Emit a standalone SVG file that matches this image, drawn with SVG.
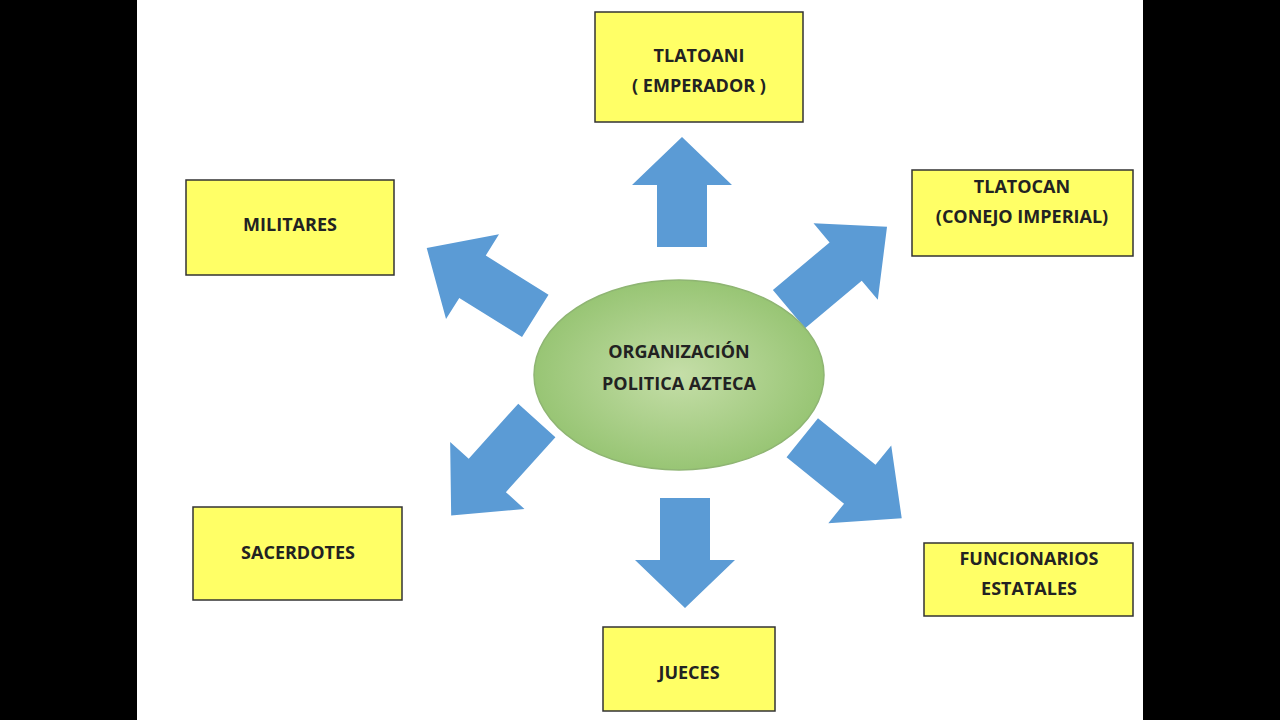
<svg xmlns="http://www.w3.org/2000/svg" width="1280" height="720" viewBox="0 0 1280 720">
<defs>
<style>
.box{fill:#ffff66;stroke:#333;stroke-width:1.5}
.t{font-family:"Open Sans","Liberation Sans",sans-serif;font-weight:bold;font-size:18px;fill:#222;text-anchor:middle}
.arr{fill:#5b9bd5}
</style>
<radialGradient id="g" cx="0.5" cy="0.5" r="0.6">
<stop offset="0" stop-color="#c5dea8"/><stop offset="1" stop-color="#8fc06a"/>
</radialGradient>
<path id="a" d="M-55,-25 L7,-25 L7,-50 L55,0 L7,50 L7,25 L-55,25Z"/>
<path id="d" d="M-64,-25 L10,-25 L10,-50 L64,0 L10,50 L10,25 L-64,25Z"/>
</defs>
<rect width="1280" height="720" fill="#000"/>
<rect x="137" y="0" width="1006" height="720" fill="#fff"/>
<g id="connectors">
<use href="#a" class="arr" transform="translate(682,192) rotate(-90)"/>
<use href="#a" class="arr" transform="translate(685,553) rotate(90)"/>
<use href="#d" class="arr" transform="translate(838,268) rotate(-40)"/>
<use href="#d" class="arr" transform="translate(481,282) rotate(-148)"/>
<use href="#d" class="arr" transform="translate(494,468) rotate(132)"/>
<use href="#d" class="arr" transform="translate(852,478) rotate(39)"/>
</g>
<g id="center"><ellipse cx="679" cy="375" rx="145" ry="95" fill="url(#g)" stroke="#8fb573" stroke-width="1.5"/>
<text class="t" x="679" y="358">ORGANIZACIÓN</text><text class="t" x="679" y="390">POLITICA AZTECA</text></g>
<g id="tlatoani"><rect class="box" x="595" y="12" width="208" height="110"/><text class="t" x="699" y="62">TLATOANI</text><text class="t" x="699" y="92">( EMPERADOR )</text></g>
<g id="tlatocan"><rect class="box" x="912" y="170" width="221" height="86"/><text class="t" x="1022" y="193">TLATOCAN</text><text class="t" x="1022" y="223">(CONEJO IMPERIAL)</text></g>
<g id="militares"><rect class="box" x="186" y="180" width="208" height="95"/><text class="t" x="290" y="231">MILITARES</text></g>
<g id="sacerdotes"><rect class="box" x="193" y="507" width="209" height="93"/><text class="t" x="298" y="559">SACERDOTES</text></g>
<g id="jueces"><rect class="box" x="603" y="627" width="172" height="84"/><text class="t" x="689" y="679">JUECES</text></g>
<g id="funcionarios"><rect class="box" x="924" y="543" width="209" height="73"/><text class="t" x="1029" y="565">FUNCIONARIOS</text><text class="t" x="1029" y="595">ESTATALES</text></g>
</svg>
